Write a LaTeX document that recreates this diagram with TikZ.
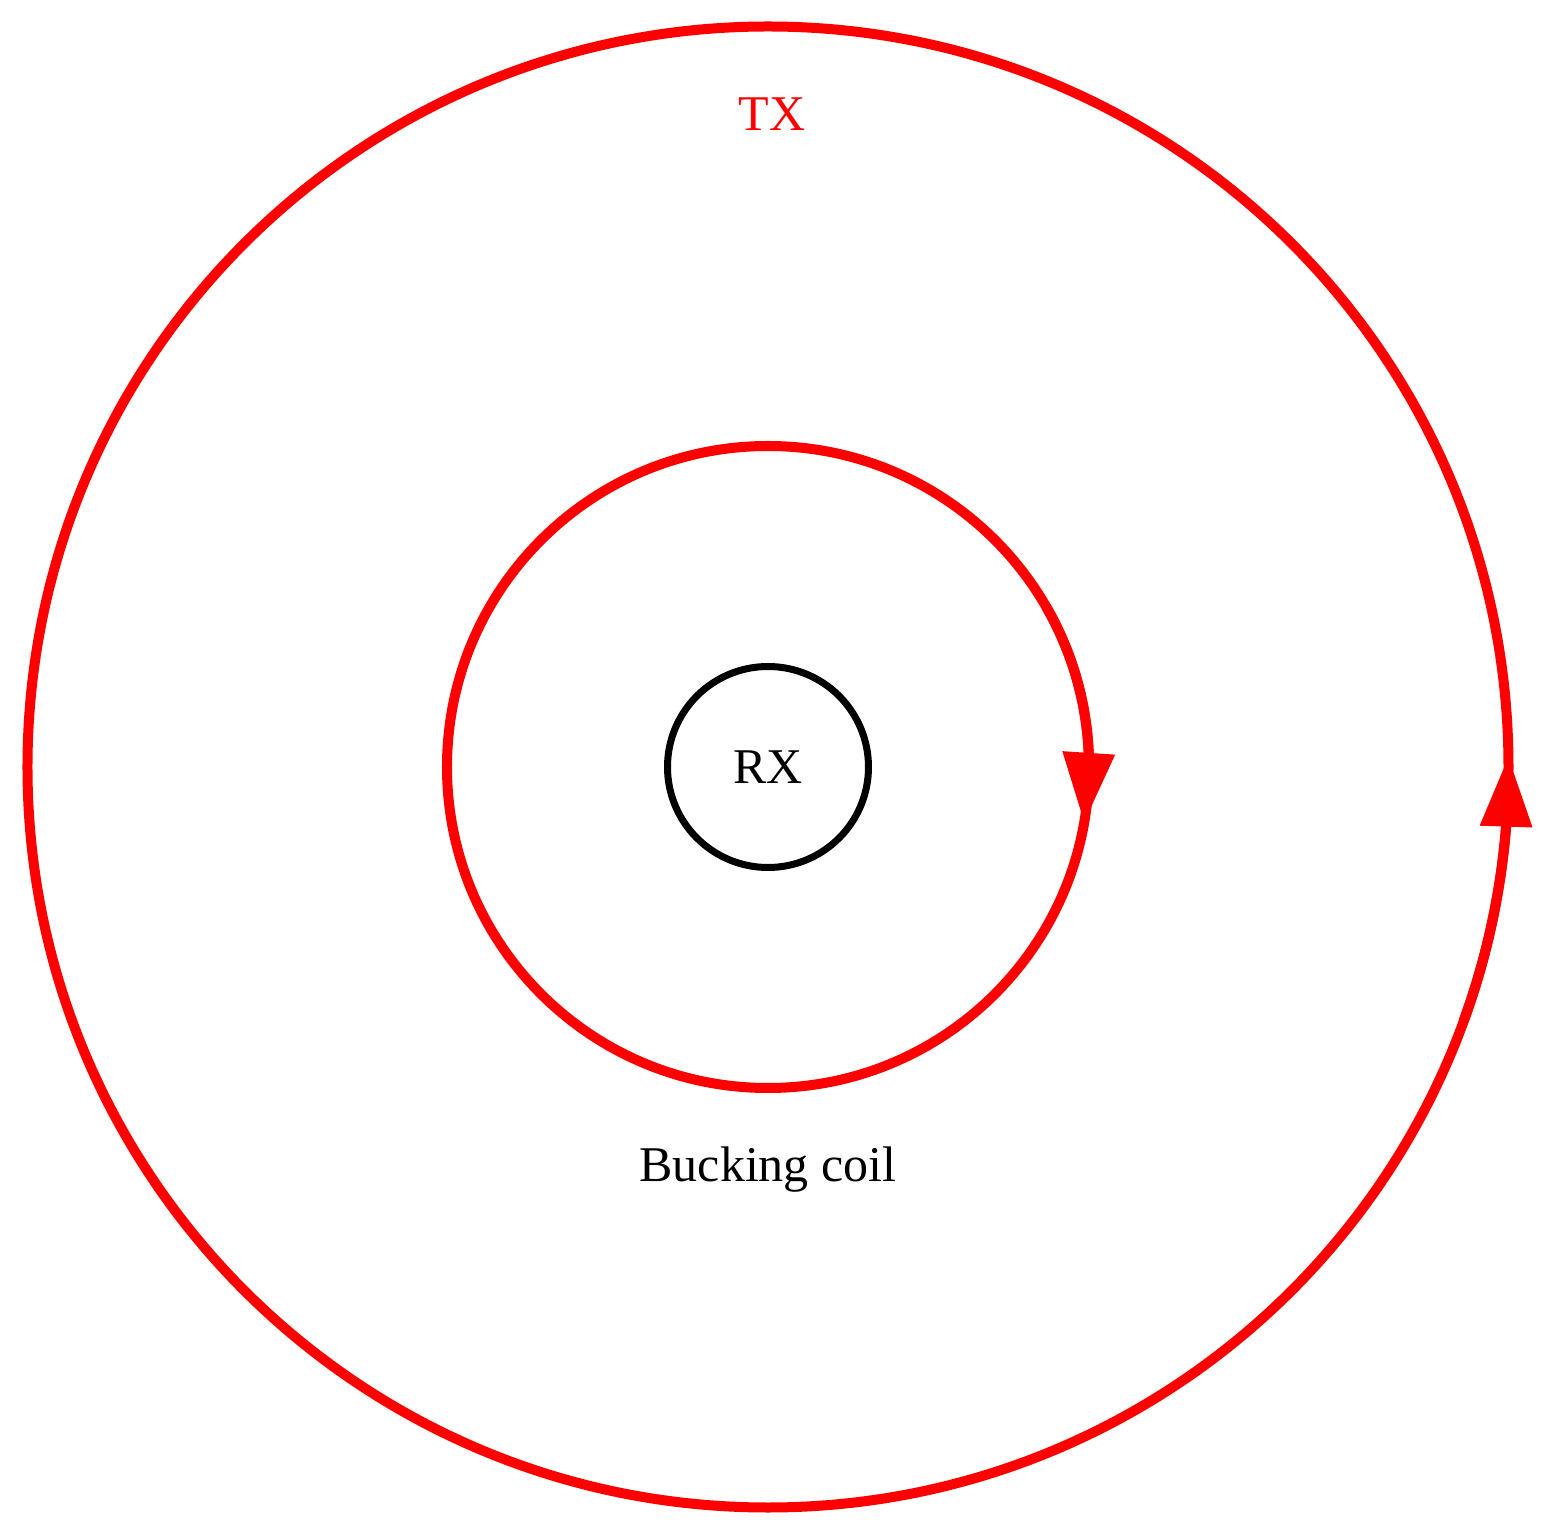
\documentclass[tikz,border=0pt]{standalone}
\usepackage{fontspec}
\setmainfont{Liberation Serif}
\usetikzlibrary{arrows.meta,bending}
\colorlet{coilRed}{red}
\tikzset{
  coil/.style={draw=coilRed, line width=10pt},
  loopTip/.style={-{Triangle[length=70pt,width=50pt]}},
  bigText/.style={font=\fontsize{50}{60}\selectfont},
}

\begin{document}
\begin{tikzpicture}[x=1pt,y=1pt]
    \useasboundingbox (-768,-766) rectangle (787,767);
    \node[coil, circle, minimum size=1481pt, inner sep=0pt, outer sep=0pt] (tx) at (0,0) {};
    \node[coil, circle, minimum size=642pt, inner sep=0pt, outer sep=0pt] (buck) at (0,0) {};
    \node[draw, line width=7pt, circle, minimum size=201pt, inner sep=0pt, bigText] (rx) at (0,0) {RX};
    % current direction in the loops
    \draw[coil, loopTip] (buck.30) arc (30:-10:321);
    \draw[coil, loopTip] (tx.-20) arc (-20:0.8:740.5);
    \node[coilRed, bigText, anchor=base] (txlabel) at (4,636) {TX};
    \node[bigText, anchor=base] (bucklabel) at (0,-414) {Bucking coil};
\end{tikzpicture}
\end{document}
